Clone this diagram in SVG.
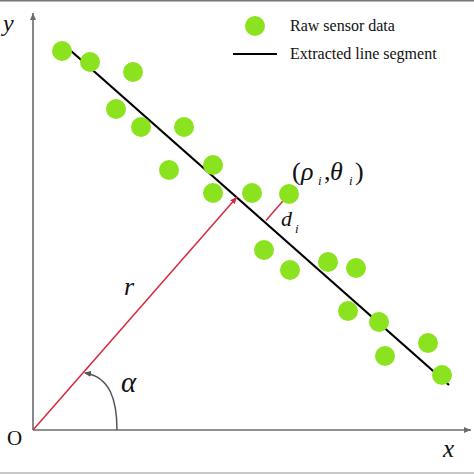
<svg xmlns="http://www.w3.org/2000/svg" width="474" height="474" viewBox="0 0 474 474">
<style>
.pt{fill:#8be31f}
.ax{stroke:#6b6b6b;stroke-width:1.6;fill:none}
.red{stroke:#d8283c;stroke-width:1.5;fill:none}
text{font-family:'Liberation Serif','DejaVu Serif',serif;fill:#111}
.it{font-style:italic}
</style>
<defs>
<marker id="ga" markerWidth="8" markerHeight="8" refX="7" refY="4" orient="auto" markerUnits="userSpaceOnUse"><path d="M0,1 L7,4 L0,7 z" fill="#6b6b6b"/></marker>
<marker id="ra" markerWidth="8" markerHeight="8" refX="7" refY="4" orient="auto" markerUnits="userSpaceOnUse"><path d="M0,1 L7,4 L0,7 z" fill="#d8283c"/></marker>
<marker id="aa" markerWidth="8" markerHeight="8" refX="6" refY="4" orient="auto" markerUnits="userSpaceOnUse"><path d="M0,1 L7,4 L0,7 z" fill="#555"/></marker>
</defs>
<rect x="0" y="0" width="474" height="474" fill="#fff"/>
<rect x="0" y="0" width="474" height="1.5" fill="#777"/>
<rect x="0" y="472" width="474" height="2" fill="#c8c8c8"/>
<g id="connectors">
<line class="ax" x1="33" y1="430" x2="33" y2="13" marker-end="url(#ga)"/>
<line class="ax" x1="33" y1="430" x2="471" y2="430" marker-end="url(#ga)"/>
<line x1="62" y1="43" x2="449" y2="385" stroke="#000" stroke-width="2.2"/>
<line class="red" x1="33" y1="430" x2="237" y2="197" marker-end="url(#ra)"/>
<line class="red" x1="289" y1="194" x2="266" y2="220.5"/>
<path d="M117,430 C117,400 110,377 85,373" stroke="#555" stroke-width="1.5" fill="none" marker-end="url(#aa)"/>
</g>
<g id="points">
<circle class="pt" cx="62" cy="51" r="10"/>
<circle class="pt" cx="90" cy="62" r="10"/>
<circle class="pt" cx="133" cy="72" r="10"/>
<circle class="pt" cx="116" cy="109" r="10"/>
<circle class="pt" cx="141" cy="127" r="10"/>
<circle class="pt" cx="184" cy="127" r="10"/>
<circle class="pt" cx="169" cy="170" r="10"/>
<circle class="pt" cx="213" cy="165" r="10"/>
<circle class="pt" cx="213" cy="193" r="10"/>
<circle class="pt" cx="252" cy="193" r="10"/>
<circle class="pt" cx="289" cy="194" r="10"/>
<circle class="pt" cx="264" cy="250" r="10"/>
<circle class="pt" cx="290" cy="270" r="10"/>
<circle class="pt" cx="328" cy="262" r="10"/>
<circle class="pt" cx="356" cy="268" r="10"/>
<circle class="pt" cx="348" cy="311" r="10"/>
<circle class="pt" cx="379" cy="322" r="10"/>
<circle class="pt" cx="385" cy="356" r="10"/>
<circle class="pt" cx="428" cy="343" r="10"/>
<circle class="pt" cx="442" cy="375" r="10"/>
</g>
<g id="legend">
<circle class="pt" cx="255" cy="26" r="10"/>
<text x="290" y="31" font-size="16">Raw sensor data</text>
<line x1="233" y1="54" x2="277" y2="54" stroke="#000" stroke-width="2"/>
<text x="290" y="58.5" font-size="16">Extracted line segment</text>
</g>
<g id="labels">
<text class="it" x="3" y="31" font-size="24">y</text>
<text x="7" y="445" font-size="21">O</text>
<text class="it" x="443" y="457" font-size="25">x</text>
<text class="it" x="124" y="295" font-size="26">r</text>
<text class="it" x="121" y="392" font-size="29">α</text>
<text font-size="26"><tspan x="292" y="180">(</tspan><tspan class="it" x="301" y="180">ρ</tspan><tspan class="it" x="318" y="185" font-size="13">i</tspan><tspan x="324" y="180">,</tspan><tspan class="it" x="330" y="180">θ</tspan><tspan class="it" x="349" y="185" font-size="13">i</tspan><tspan x="355" y="180">)</tspan></text>
<text class="it" x="281" y="226" font-size="22">d</text>
<text class="it" x="295" y="233" font-size="13">i</text>
</g>
</svg>
